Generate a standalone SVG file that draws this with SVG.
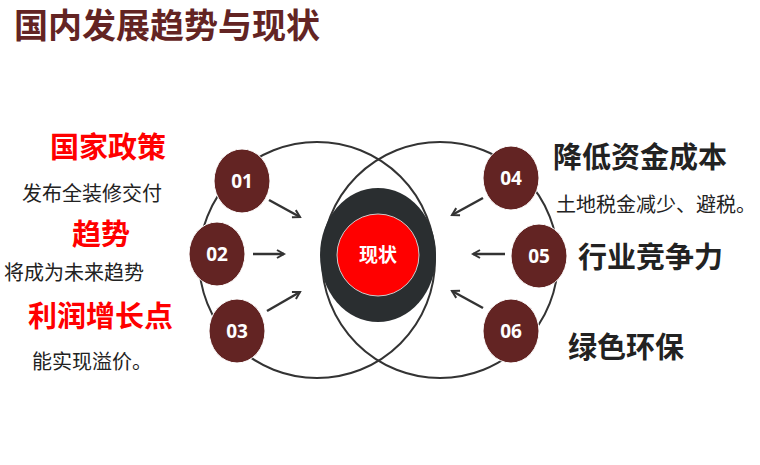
<svg xmlns="http://www.w3.org/2000/svg" width="760" height="465" viewBox="0 0 760 465">
<style>
.cjk{font-family:"Noto Sans CJK SC","Liberation Sans",sans-serif}
.red{fill:#ff0000;font-weight:bold;font-size:29px}
.dk{fill:#222;font-weight:bold;font-size:29px}
.sm{fill:#222;font-size:20px}
.node ellipse{fill:#632423;stroke:#fff;stroke-width:1}
.num{fill:#fff;font-family:"Open Sans","Liberation Sans",sans-serif;font-weight:bold;font-size:19px}
</style>
<defs><marker id="ah" markerWidth="10" markerHeight="10" refX="8" refY="5" orient="auto" markerUnits="userSpaceOnUse"><path d="M1,1 L8,5 L1,9" fill="none" stroke="#333" stroke-width="2"/></marker></defs>
<rect width="760" height="465" fill="#fff"/>
<text x="14" y="38" class="cjk" style="font-size:34px;font-weight:bold;fill:#632423">国内发展趋势与现状</text>
<g id="rings" fill="none" stroke="#333" stroke-width="2">
<ellipse cx="317" cy="260" rx="118" ry="118"/>
<ellipse cx="440" cy="260" rx="118" ry="118"/>
</g>
<g id="center">
<ellipse cx="378" cy="255" rx="58" ry="67" fill="#2a2e30"/>
<ellipse cx="378" cy="255" rx="41" ry="41" fill="#ff0000" stroke="#ccc" stroke-width="1"/>
<text x="378" y="262" text-anchor="middle" class="cjk" style="fill:#fff;font-weight:bold;font-size:19px">现状</text>
</g>
<g id="connectors" stroke="#333" stroke-width="2.5" marker-end="url(#ah)">
<line x1="269" y1="200" x2="300" y2="217"/>
<line x1="253" y1="254" x2="284" y2="254"/>
<line x1="267" y1="311" x2="300" y2="292"/>
<line x1="483" y1="198" x2="452" y2="215"/>
<line x1="505" y1="254" x2="473" y2="254"/>
<line x1="483" y1="308" x2="452" y2="291"/>
</g>
<g id="n01" class="node"><ellipse cx="242" cy="181" rx="28" ry="32"/><text x="242" y="188" text-anchor="middle" class="num">01</text></g>
<g id="n02" class="node"><ellipse cx="217" cy="254" rx="28" ry="32"/><text x="217" y="261" text-anchor="middle" class="num">02</text></g>
<g id="n03" class="node"><ellipse cx="237" cy="331" rx="28" ry="32"/><text x="237" y="338" text-anchor="middle" class="num">03</text></g>
<g id="n04" class="node"><ellipse cx="511" cy="178" rx="28" ry="32"/><text x="511" y="185" text-anchor="middle" class="num">04</text></g>
<g id="n05" class="node"><ellipse cx="539" cy="256" rx="28" ry="32"/><text x="539" y="263" text-anchor="middle" class="num">05</text></g>
<g id="n06" class="node"><ellipse cx="511" cy="331" rx="28" ry="32"/><text x="511" y="338" text-anchor="middle" class="num">06</text></g>
<g id="left-text" class="cjk">
<text x="50" y="158" class="red">国家政策</text>
<text x="22" y="201" class="sm">发布全装修交付</text>
<text x="72" y="245" class="red">趋势</text>
<text x="4" y="280" class="sm">将成为未来趋势</text>
<text x="28" y="327" class="red">利润增长点</text>
<text x="32" y="369" class="sm">能实现溢价。</text>
</g>
<g id="right-text" class="cjk">
<text x="553" y="168" class="dk">降低资金成本</text>
<text x="556" y="212" class="sm">土地税金减少、避税。</text>
<text x="578" y="268" class="dk">行业竞争力</text>
<text x="568" y="358" class="dk">绿色环保</text>
</g>
</svg>
